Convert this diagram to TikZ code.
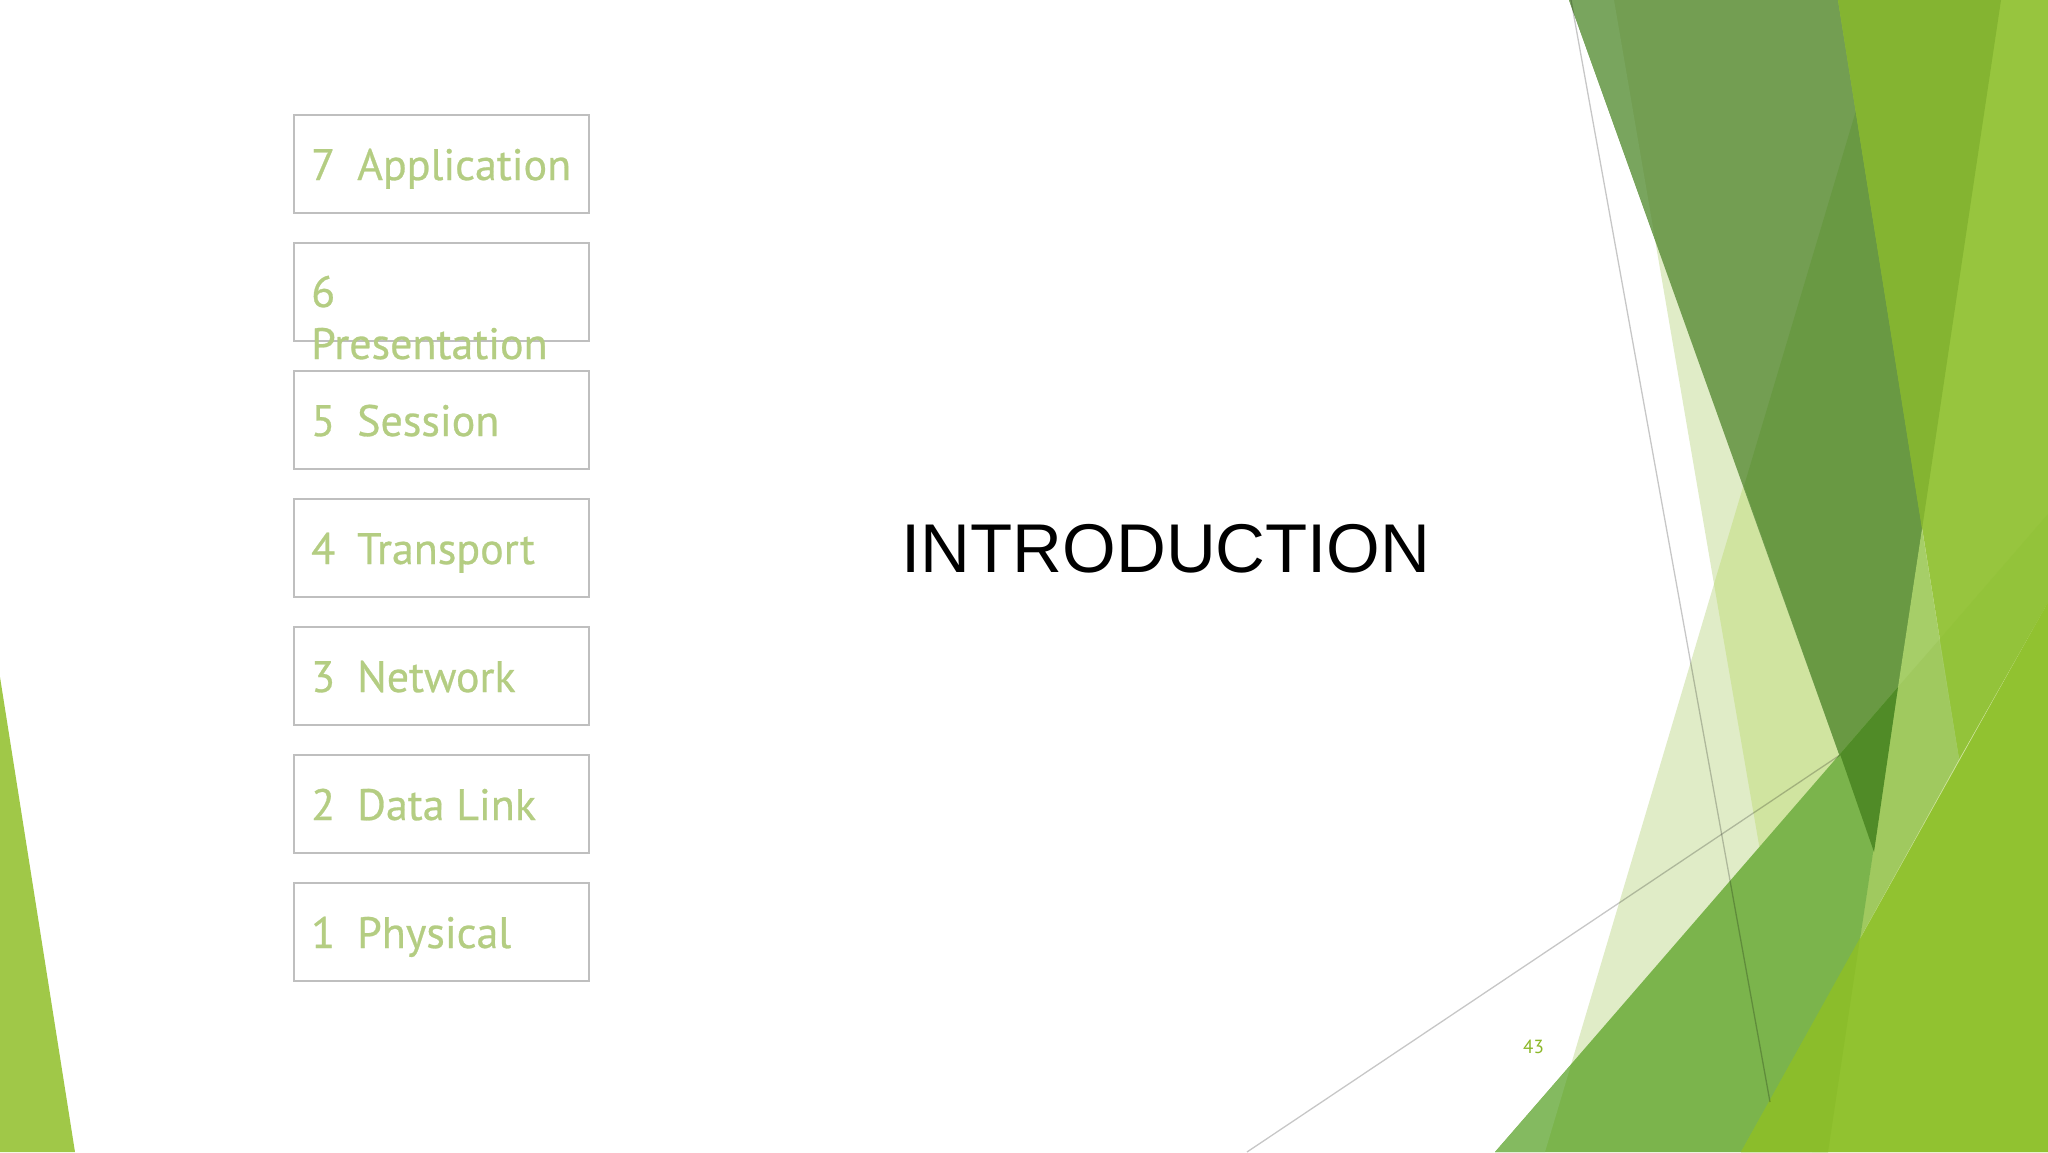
\documentclass[tikz,border=0pt]{standalone}
\usepackage{fontspec}
\setmainfont{Liberation Sans}
\newfontfamily\layerfont[FakeBold=0.6]{PT Sans}
\newfontfamily\pagefont{PT Sans}
\usetikzlibrary{positioning}

\definecolor{leftgreen}{RGB}{160,200,72}
\definecolor{palelight}{RGB}{224,236,199}
\definecolor{palemid}{RGB}{208,228,160}
\definecolor{darkface}{RGB}{115,158,82}
\definecolor{darkstrip}{RGB}{121,165,94}
\definecolor{darkdeep}{RGB}{105,153,67}
\definecolor{olive}{RGB}{132,180,49}
\definecolor{bright}{RGB}{151,197,62}
\definecolor{brightlow}{RGB}{147,195,58}
\definecolor{lightwedge}{RGB}{166,206,104}
\definecolor{lightwedgelow}{RGB}{160,201,95}
\definecolor{midgreen}{RGB}{123,180,76}
\definecolor{midgreenpale}{RGB}{132,186,96}
\definecolor{deepest}{RGB}{80,139,39}
\definecolor{yellowgreen}{RGB}{145,194,48}
\definecolor{yellowgreendark}{RGB}{139,189,43}
\definecolor{layergreen}{RGB}{180,205,130}
\definecolor{boxgray}{RGB}{191,191,191}
\definecolor{pagegreen}{RGB}{140,184,41}

\begin{document}
\begin{tikzpicture}[x=1pt,y=-1pt,
    layerbox/.style={draw=boxgray,line width=1.5pt,minimum width=295pt,minimum height=98pt,inner sep=0pt,outer sep=0pt},
    layertext/.style={anchor=base west,inner sep=0pt,text=layergreen,font=\layerfont\fontsize{44}{52}\selectfont},
    hairline/.style={draw=black,opacity=0.22,line width=1.3pt}]
  \useasboundingbox (0,0) rectangle (2048,1152);
  \fill[white] (0,0) rectangle (2048,1152);

  % facets
  \fill[leftgreen] (0,677) -- (75,1152) -- (0,1152) -- cycle;
  \fill[palelight] (1614,0) -- (1714,584) -- (1545,1152) -- (2048,1152) -- (2048,0) -- cycle;
  \fill[palemid] (1889,0) -- (1714,584) -- (1812,1152) -- (2048,1152) -- (2048,0) -- cycle;
  \fill[darkface] (1569,0) -- (2001,0) -- (1874,852) -- cycle;
  \fill[darkstrip] (1569,0) -- (1614,0) -- (1655,239) -- cycle;
  \fill[darkdeep] (1889,0) -- (2001,0) -- (1874,852) -- (1744,486) -- cycle;
  \fill[bright] (1838,0) -- (2048,0) -- (2048,602) -- (1959,759) -- cycle;
  \fill[brightlow] (2048,514) -- (2048,602) -- (1959,759) -- (1939,640) -- cycle;
  \fill[olive] (1838,0) -- (2001,0) -- (1922,529) -- cycle;
  \fill[lightwedge] (1922,529) -- (1959,759) -- (1860,938) -- cycle;
  \fill[lightwedgelow] (1939,640) -- (1959,759) -- (1860,938) -- (1898,687) -- cycle;
  \fill[midgreen] (1495,1152) -- (1898,687) -- (1828,1152) -- cycle;
  \fill[midgreenpale] (1495,1152) -- (1571,1065) -- (1545,1152) -- cycle;
  \fill[deepest] (1840,754) -- (1898,687) -- (1874,852) -- cycle;
  \fill[yellowgreen] (2048,602) -- (1741,1152) -- (2048,1152) -- cycle;
  \fill[yellowgreendark] (1860,938) -- (1741,1152) -- (1828,1152) -- cycle;
  \draw[hairline] (1571,0) -- (1770,1102);
  \draw[hairline] (1247,1152) -- (1840,755);

  % the seven layers
  \node[layerbox,anchor=north west] (L7) at (294,115) {};
  \node[layerbox,below=30pt of L7] (L6) {};
  \node[layerbox,below=30pt of L6] (L5) {};
  \node[layerbox,below=30pt of L5] (L4) {};
  \node[layerbox,below=30pt of L4] (L3) {};
  \node[layerbox,below=30pt of L3] (L2) {};
  \node[layerbox,below=30pt of L2] (L1) {};

  \node[layertext] (t7) at ([xshift=17pt,yshift=-65pt]L7.north west) {7\hspace{0.5em}Application};
  \node[layertext] (t6) at ([xshift=17pt,yshift=-64pt]L6.north west) {6};
  \node[layertext] (t6b) at ([yshift=-52pt]t6.base west) {Presentation};
  \node[layertext] (t5) at ([xshift=17pt,yshift=-65pt]L5.north west) {5\hspace{0.5em}Session};
  \node[layertext] (t4) at ([xshift=17pt,yshift=-65pt]L4.north west) {4\hspace{0.5em}Transport};
  \node[layertext] (t3) at ([xshift=17pt,yshift=-65pt]L3.north west) {3\hspace{0.5em}Network};
  \node[layertext] (t2) at ([xshift=17pt,yshift=-65pt]L2.north west) {2\hspace{0.5em}Data Link};
  \node[layertext] (t1) at ([xshift=17pt,yshift=-65pt]L1.north west) {1\hspace{0.5em}Physical};

  \node[anchor=base,inner sep=0pt,font=\fontsize{69}{80}\selectfont] (title) at (1166,572) {INTRODUCTION};
  \node[anchor=base west,inner sep=0pt,text=pagegreen,font=\pagefont\fontsize{19}{22}\selectfont] (pagenum) at (1523,1053) {43};
\end{tikzpicture}
\end{document}
